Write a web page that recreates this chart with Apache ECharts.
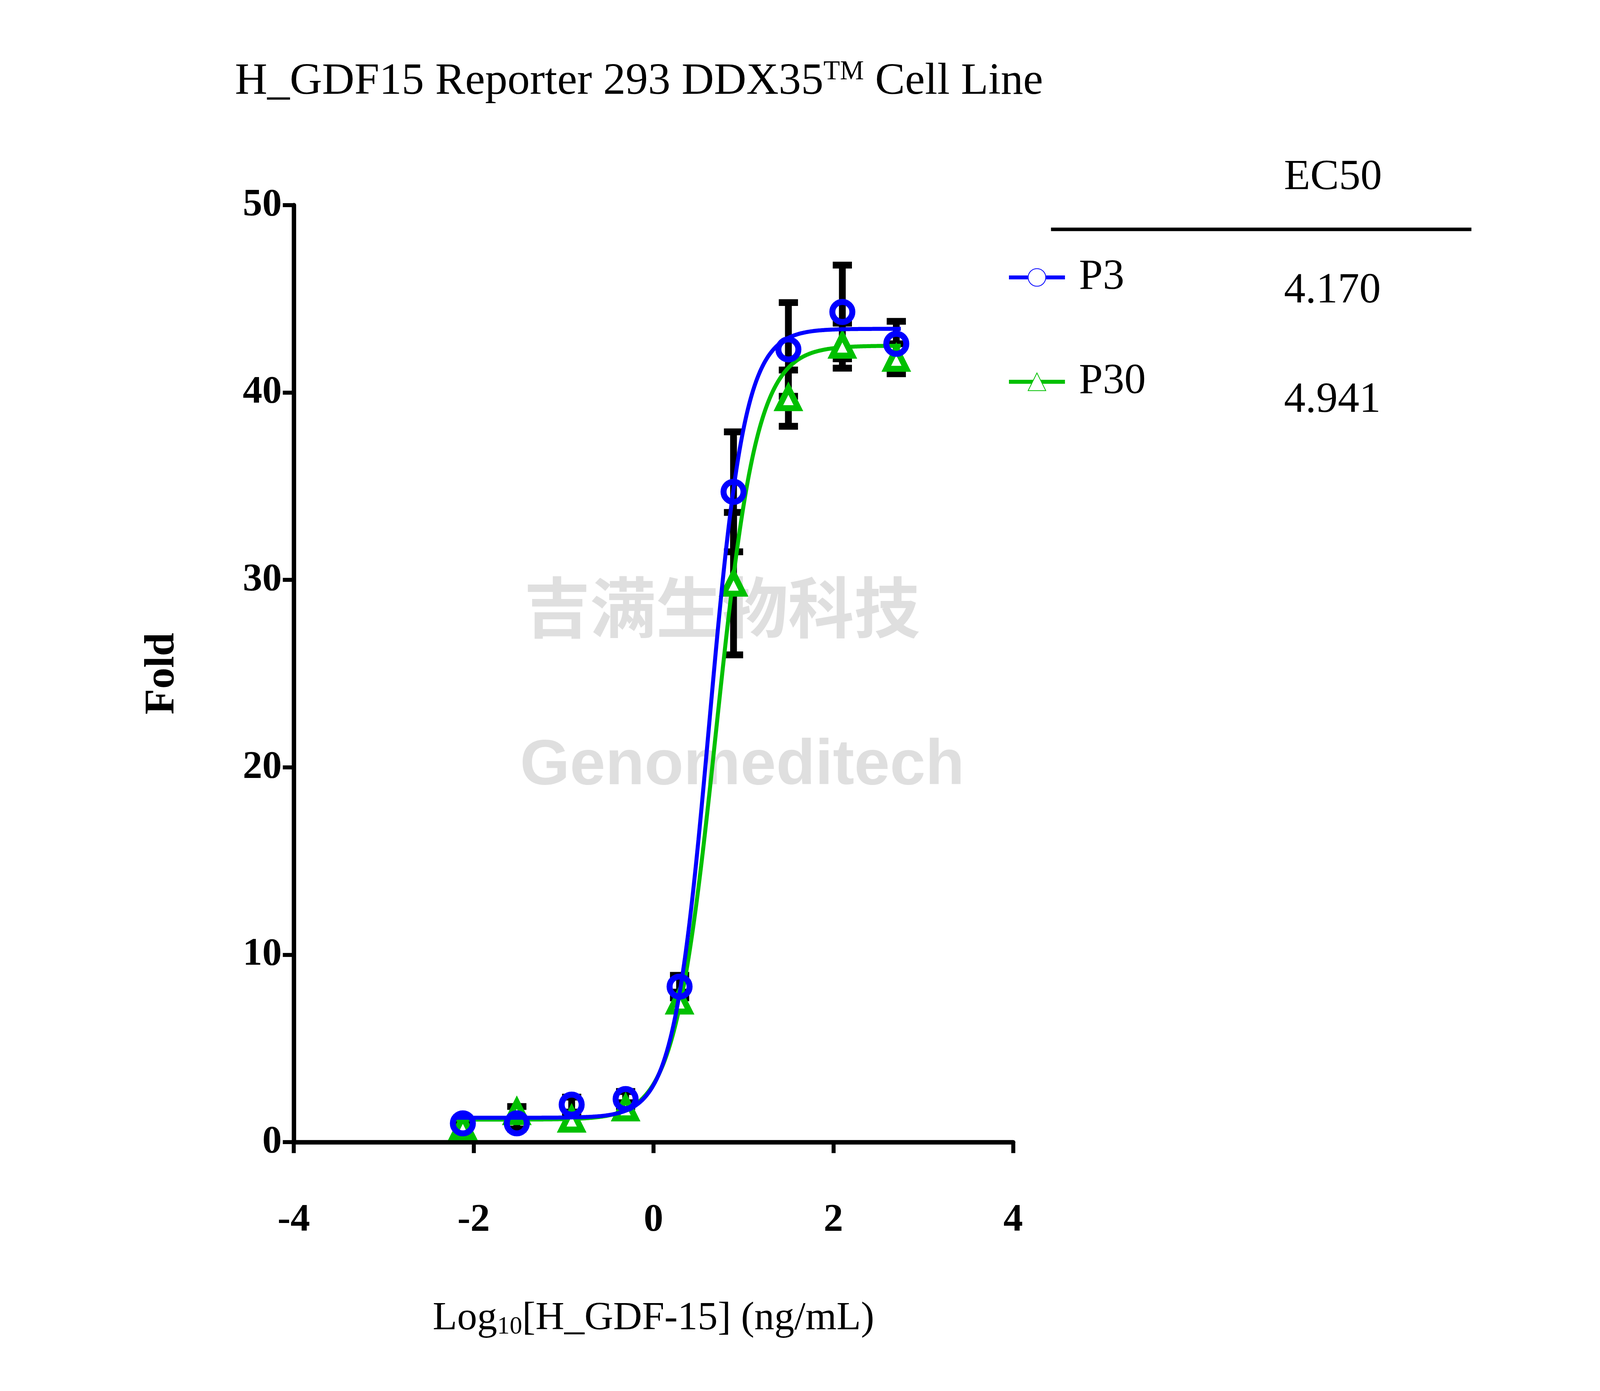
<!DOCTYPE html>
<html><head><meta charset="utf-8">
<script src="https://cdn.jsdelivr.net/npm/echarts@6/dist/echarts.min.js"></script>
<style>html,body{margin:0;background:#fff;overflow:hidden}</style>
</head><body><div id="c"></div>
<script>
const logConc = [-2.12, -1.52, -0.91, -0.31, 0.29, 0.89, 1.50, 2.10, 2.70];
const p3Mean = [1.0, 1.0, 2.0, 2.3, 8.3, 34.7, 42.3, 44.3, 42.6];
const p3Err  = [0.3, 0.3, 0.4, 0.4, 0.6, 3.2, 2.5, 2.5, 1.2];
const p30Mean = [0.8, 1.6, 1.2, 1.8, 7.5, 29.8, 39.7, 42.5, 41.8];
const p30Err  = [0.3, 0.3, 0.3, 0.3, 0.5, 3.8, 1.5, 1.2, 0.8];
// 4PL fit parameters [bottom, top, logEC50, hill]
const p3Fit = [1.3, 43.4, Math.log10(4.170), 2.2];
const p30Fit = [1.2, 42.5, Math.log10(4.941), 1.9];
const ec50Labels = ['4.170', '4.941'];
const seriesNames = ['P3', 'P30'];

function curve(p) {
  const out = [];
  for (let x = -2.2; x <= 2.75; x += 0.01) {
    out.push([x, p[0] + (p[1] - p[0]) / (1 + Math.pow(10, (p[2] - x) * p[3]))]);
  }
  return out;
}
const errData = [];
logConc.forEach((x, i) => { errData.push([x, p3Mean[i] - p3Err[i], p3Mean[i] + p3Err[i]]); errData.push([x, p30Mean[i] - p30Err[i], p30Mean[i] + p30Err[i]]); });

const el = document.getElementById('c');
const W = window.innerWidth, H = window.innerHeight;
el.style.width = W + 'px';
el.style.height = H + 'px';
const S = W / 8000, SY = H / 3560;
const k = v => v * S;     // horizontal / sizes
const ky = v => v * SY;   // vertical positions
const BLUE = '#0000FF', GREEN = '#00C000';
const font = 'Liberation Serif';
const chart = echarts.init(el, null, {renderer: 'canvas'});
chart.setOption({
  animation: false,
  title: {
    text: '{a|H_GDF15 Reporter 293 DDX35}{s|TM}{a| Cell Line}',
    left: k(1165), top: ky(145),
    textStyle: {fontWeight: 'normal', rich: {a: {fontFamily: font, fontWeight: 'normal', fontSize: k(224), color: '#000'}, s: {fontFamily: font, fontWeight: 'normal', fontSize: k(135), color: '#000', verticalAlign: 'top', padding: [0, 0, k(100), 0]}}}
  },
  grid: {left: k(1469), right: k(8000 - 5066), top: ky(525), bottom: ky(3560 - 2923)},
  xAxis: {
    type: 'value', min: -4, max: 4, interval: 2,
    name: '{a|Log}{s|10}{a|[H_GDF-15] (ng/mL)}', nameLocation: 'middle', nameGap: ky(400),
    nameTextStyle: {rich: {a: {fontFamily: font, fontSize: k(200), color: '#000'}, s: {fontFamily: font, fontSize: k(125), color: '#000', verticalAlign: 'bottom', padding: [k(80), 0, 0, 0]}}},
    axisLine: {onZero: false, lineStyle: {color: '#000', width: k(22)}},
    axisTick: {show: true, length: k(55), lineStyle: {color: '#000', width: k(20)}},
    axisLabel: {fontFamily: font, fontWeight: 'bold', fontSize: k(195), color: '#000', margin: ky(150)},
    splitLine: {show: false}
  },
  yAxis: {
    type: 'value', min: 0, max: 50, interval: 10,
    name: 'Fold', nameLocation: 'middle', nameGap: k(550),
    nameTextStyle: {fontFamily: font, fontWeight: 'bold', fontSize: k(210), color: '#000'},
    axisLine: {show: true, onZero: false, lineStyle: {color: '#000', width: k(22)}},
    axisTick: {show: true, length: k(55), lineStyle: {color: '#000', width: k(20)}},
    axisLabel: {fontFamily: font, fontWeight: 'bold', fontSize: k(195), color: '#000', margin: k(60)},
    splitLine: {show: false}
  },
  legend: {
    data: seriesNames, orient: 'vertical', left: k(5025), top: ky(650), itemGap: ky(280) - k(240),
    itemWidth: k(280), itemHeight: k(110),
    lineStyle: {width: k(20)}, itemStyle: {borderWidth: k(28)},
    textStyle: {fontFamily: font, fontSize: k(215), color: '#000', padding: [0, 0, 0, k(60)]}
  },
  graphic: [
    {type: 'text', left: k(2620), top: ky(1470), z: -1, style: {text: '吉满生物科技', fontFamily: 'Noto Sans CJK SC', fontWeight: 'bold', fontSize: k(330), fill: 'rgba(150,150,150,0.3)'}},
    {type: 'text', left: k(2600), top: ky(1880), z: -1, style: {text: 'Genomeditech', fontFamily: 'Liberation Sans', fontWeight: 'bold', fontSize: k(320), fill: 'rgba(150,150,150,0.3)'}},
    {type: 'text', left: k(6420), top: ky(400), style: {text: 'EC50', fontFamily: font, fontSize: k(215), fill: '#000'}},
    {type: 'line', shape: {x1: k(5255), y1: ky(587), x2: k(7357), y2: ky(587)}, style: {stroke: '#000', lineWidth: k(18)}},
    {type: 'text', left: k(6420), top: ky(690), style: {text: ec50Labels[0], fontFamily: font, fontSize: k(215), fill: '#000'}},
    {type: 'text', left: k(6420), top: ky(970), style: {text: ec50Labels[1], fontFamily: font, fontSize: k(215), fill: '#000'}}
  ],
  series: [
    {type: 'custom', name: 'err', z: 2, data: errData,
      renderItem: (params, api) => {
        const lo = api.coord([api.value(0), api.value(1)]);
        const hi = api.coord([api.value(0), api.value(2)]);
        const w = k(48);
        const st = {stroke: '#000', lineWidth: k(34), fill: null};
        return {type: 'group', children: [
          {type: 'line', shape: {x1: lo[0], y1: lo[1], x2: hi[0], y2: hi[1]}, style: st},
          {type: 'line', shape: {x1: lo[0] - w, y1: lo[1], x2: lo[0] + w, y2: lo[1]}, style: st},
          {type: 'line', shape: {x1: hi[0] - w, y1: hi[1], x2: hi[0] + w, y2: hi[1]}, style: st}
        ]};
      }},
    {type: 'line', name: 'P30', z: 3, data: curve(p30Fit), showSymbol: false, symbol: 'emptyTriangle', symbolSize: k(100),
      lineStyle: {color: GREEN, width: k(20)}, itemStyle: {color: GREEN, borderWidth: k(28)}},
    {type: 'scatter', name: 'P30', z: 4, data: logConc.map((x, i) => [x, p30Mean[i]]), symbol: 'triangle', symbolSize: k(100),
      itemStyle: {color: '#fff', borderColor: GREEN, borderWidth: k(30), opacity: 1}},
    {type: 'line', name: 'P3', z: 5, data: curve(p3Fit), showSymbol: false, symbol: 'emptyCircle', symbolSize: k(100),
      lineStyle: {color: BLUE, width: k(20)}, itemStyle: {color: BLUE, borderWidth: k(28)}},
    {type: 'scatter', name: 'P3', z: 6, data: logConc.map((x, i) => [x, p3Mean[i]]), symbol: 'circle', symbolSize: k(100),
      itemStyle: {color: 'rgba(255,255,255,0)', borderColor: BLUE, borderWidth: k(30), opacity: 1}}
  ]
});
</script></body></html>
